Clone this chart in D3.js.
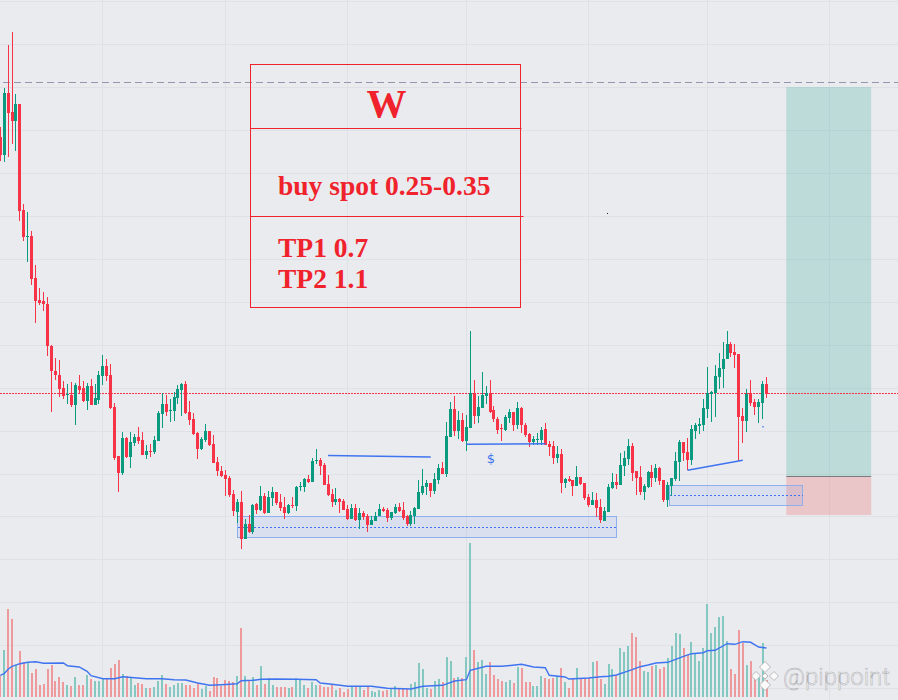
<!DOCTYPE html>
<html>
<head>
<meta charset="utf-8">
<script src="https://cdn.jsdelivr.net/npm/d3@7"></script>
<style>
	html, body { margin: 0; padding: 0; background: #eaebef; overflow: hidden; }
	svg { display: block; }
</style>
</head>
<body>
<svg width="898" height="700"></svg>
<script>
// prices are in 1/1000 of a dollar, candles run left to right
const opens = [563,545,607,588,579,596,490,463,464,422,400,399,396,354,329,325,312,305,305,295,314,312,299,314,295,300,324,334,325,293,244,227,262,243,257,263,260,245,249,248,259,286,296,289,289,302,310,316,288,281,267,251,260,269,256,238,229,225,222,206,188,198,161,176,168,196,190,204,187,202,208,198,193,187,195,194,213,213,221,218,239,240,235,216,206,198,201,199,191,181,192,180,187,184,175,179,184,191,190,182,187,193,190,184,176,184,191,207,213,217,209,220,232,226,263,291,269,280,259,272,307,284,292,304,307,290,281,272,270,282,288,275,292,275,266,258,260,260,271,256,254,242,246,217,221,220,214,223,217,203,195,200,193,179,188,212,218,215,234,241,254,229,223,208,213,228,222,232,220,200,214,221,238,258,248,240,269,274,275,291,306,307,323,331,341,356,348,346,284,279,307,298,293,297,316]
const highs = [573,612,655,668,606,596,496,488,469,435,412,408,403,355,342,340,319,316,318,317,325,319,317,321,316,329,345,341,336,297,244,268,263,268,266,273,268,255,256,264,289,307,305,301,308,315,317,319,299,287,268,263,276,269,265,243,234,230,224,210,201,209,181,185,196,197,214,207,209,213,208,206,203,196,203,214,218,222,225,242,251,242,237,225,211,212,202,201,195,196,196,192,189,186,184,188,196,193,192,188,196,197,198,185,189,193,220,231,220,217,227,236,238,278,298,304,289,287,285,369,320,304,328,314,320,294,283,276,285,291,288,298,293,277,267,264,267,273,277,259,259,254,251,222,224,220,234,223,217,206,208,207,201,193,216,227,226,247,249,261,257,229,234,216,229,235,236,233,220,218,222,248,260,258,262,275,277,282,301,333,309,335,347,358,369,358,356,346,292,311,320,301,301,319,323]
const lows = [539,538,543,556,549,479,459,438,415,377,395,389,344,288,320,303,301,296,293,275,306,298,290,295,295,296,315,319,291,240,208,225,242,232,254,256,245,241,243,246,259,272,284,278,279,296,284,286,275,265,241,250,258,254,237,224,223,204,203,184,177,151,161,167,166,186,189,186,187,194,195,189,181,186,192,189,209,208,217,218,236,225,215,204,193,195,187,190,180,181,179,171,180,168,175,179,184,188,178,180,186,188,180,174,174,176,191,205,205,203,206,216,226,223,263,264,261,258,249,272,276,277,292,296,287,278,266,259,269,277,269,271,267,263,253,255,255,255,255,244,236,237,207,212,218,204,214,215,200,193,195,183,177,179,188,211,211,215,224,235,219,205,205,200,212,213,218,215,198,193,204,219,219,239,230,235,261,266,269,282,278,283,311,312,341,343,332,239,257,268,294,285,277,281,302]
const closes = [545,607,587,579,596,489,463,464,421,399,397,396,354,329,325,311,304,306,295,315,310,299,314,295,302,325,334,324,292,242,227,262,243,258,263,259,245,249,248,260,287,296,288,290,303,311,316,287,280,266,251,261,269,255,237,229,224,221,205,189,198,161,176,168,195,190,204,187,203,208,197,192,187,195,194,213,214,221,218,239,240,234,215,205,198,201,198,190,181,192,180,187,183,175,180,184,191,189,182,188,193,189,182,176,185,192,208,214,217,209,221,232,226,264,291,269,280,259,273,307,284,293,305,307,288,281,270,271,283,288,275,292,275,265,258,261,261,270,255,253,242,246,217,221,219,214,223,216,202,195,200,192,180,189,213,218,215,235,242,254,227,222,208,214,228,222,232,219,200,215,222,239,258,247,240,271,275,276,292,307,308,324,332,341,356,347,345,283,279,306,297,293,298,316,306]

// volume in arbitrary units, same order as the candles
const volumes = [21,47,88,78,32,46,35,35,24,28,12,13,28,32,16,20,15,12,11,20,12,12,22,18,16,16,19,18,29,33,37,23,21,19,12,14,13,9,9,10,16,22,13,10,12,14,14,12,12,9,14,8,11,6,20,19,11,17,16,15,21,69,21,16,20,12,31,13,19,12,10,10,10,9,10,19,18,12,9,15,12,12,10,10,13,7,9,5,8,11,10,11,7,10,6,5,7,6,7,9,11,8,8,8,13,15,34,28,9,8,16,18,15,40,36,19,20,19,40,154,47,35,37,23,35,22,18,16,15,17,14,30,29,15,15,11,11,21,19,18,19,21,29,15,9,18,29,19,19,19,35,36,18,13,33,28,22,49,45,51,64,60,36,26,25,31,32,28,30,39,51,64,63,49,42,55,44,36,49,93,64,70,80,81,56,28,23,67,54,32,36,22,22,54,17]
const maIndex = [0,1,2,3,5,7,9,11,16,17,20,22,23,26,29,31,34,37,41,44,47,50,53,56,60,61,64,66,70,75,80,81,84,88,94,98,104,107,112,115,118,119,123,127,132,135,138,139,143,144,149,152,154,156,160,162,164,166,169,173,175,178,179,181,184,186,188,190,192,194]
const maValues = [21.7,23.3,27.7,30.7,33.3,34.7,35.3,33.7,34,31.3,30,25.7,21.3,18.3,18.3,20.3,19.3,18.3,18.3,17.3,17,14,11.7,12.3,13.3,16.3,16.7,17.7,18,17.7,17.3,14,12.7,10.7,10.7,8.7,8,10.7,11.7,16,17.3,26.7,30.7,30.7,32.7,30,29.3,21.7,20,18,19,20.3,20.7,22,27.3,30.3,32,34,34.7,40.7,43.3,44.3,46.3,46.7,53.3,52.7,55.3,54.7,50,49]

const gridPrices = [698.5,655.5,612.5,569.5,526.5,483.5,440.5,397.5,354.5,311.5,268.5,225.5,183.5,140.5,97.5,54.5,11.5]
const gridIndex = [26,57,88,118,149,179,210]

const targetPrice = 617.5
const lastPrice = 306.5
const buyZone = { from: 60, to: 156, top: 183.5, bottom: 162.5 }
const retestZone = { from: 169.2, to: 203, top: 214.5, bottom: 194.5 }
const position = { from: 199, to: 220.5, top: 613, entry: 224, stop: 185 }
const trendLines = [
	[[83, 244.5], [109, 243]],
	[[118, 255.7], [138, 256.3]],
	[[174, 229.7], [188, 239.7]],
]

const tableRows = [128.5, 216.5]
const titleText = "W"
const noteLines = [
	{ text: "buy spot 0.25-0.35", y: 195 },
	{ text: "TP1 0.7", y: 257 },
	{ text: "TP2 1.1", y: 288 },
]

const green = "#0a9a80"
const red = "#f73447"
const blue = "#3f74f0"

const svg = d3.select("svg")
const width = +svg.attr("width")
const height = +svg.attr("height")

const x = d3.scaleLinear().domain([0, 194]).range([0.2, 766.5])
const y = d3.scaleLinear().domain([0, 700]).range([700, 0])
const v = d3.scaleLinear().domain([0, 154]).range([697, 543])

const isUp = (i) => closes[i] >= opens[i]

// grid
const grid = svg.append("g").attr("stroke", "#e0e1e6").attr("shape-rendering", "crispEdges")
grid.selectAll("line.h").data(gridPrices).enter().append("line")
	.attr("x1", 0).attr("x2", width)
	.attr("y1", (d) => y(d)).attr("y2", (d) => y(d))
grid.selectAll("line.v").data(gridIndex).enter().append("line")
	.attr("x1", (d) => Math.floor(x(d)) + 0.5).attr("x2", (d) => Math.floor(x(d)) + 0.5)
	.attr("y1", 0).attr("y2", height)

// long position box
svg.append("rect")
	.attr("x", x(position.from)).attr("width", x(position.to) - x(position.from))
	.attr("y", y(position.top)).attr("height", y(position.entry) - y(position.top))
	.attr("fill", "rgba(8,153,129,0.2)")
svg.append("rect")
	.attr("x", x(position.from)).attr("width", x(position.to) - x(position.from))
	.attr("y", y(position.entry)).attr("height", y(position.stop) - y(position.entry))
	.attr("fill", "rgba(238,50,50,0.2)")
svg.append("line")
	.attr("x1", x(position.from)).attr("x2", x(position.to))
	.attr("y1", y(position.entry) + 0.5).attr("y2", y(position.entry) + 0.5)
	.attr("stroke", "#7a7a80")

// zones
const zones = svg.append("g")
;[buyZone, retestZone].forEach((z) => {
	const left = Math.round(x(z.from)) + 0.5
	const right = Math.round(x(z.to)) + 0.5
	zones.append("rect")
		.attr("x", left).attr("width", right - left)
		.attr("y", y(z.top)).attr("height", y(z.bottom) - y(z.top))
		.attr("fill", "rgba(50,110,230,0.09)")
		.attr("stroke", "#8eafee")
	zones.append("line")
		.attr("x1", left).attr("x2", right)
		.attr("y1", Math.floor(y((z.top + z.bottom) / 2)) + 0.5).attr("y2", Math.floor(y((z.top + z.bottom) / 2)) + 0.5)
		.attr("stroke", blue)
		.attr("stroke-dasharray", "2 2")
		.attr("shape-rendering", "crispEdges")
})

// price lines
svg.append("line")
	.attr("x1", 3).attr("x2", width)
	.attr("y1", y(targetPrice)).attr("y2", y(targetPrice))
	.attr("stroke", "#9795ae")
	.attr("stroke-dasharray", "7 4")
	.attr("shape-rendering", "crispEdges")
svg.append("line")
	.attr("x1", 0).attr("x2", width)
	.attr("y1", y(lastPrice)).attr("y2", y(lastPrice))
	.attr("stroke", red)
	.attr("stroke-dasharray", "2 1")
	.attr("shape-rendering", "crispEdges")

// volume
const volumeColor = (i) => (isUp(i) ? "#85c8c1" : "#ee9a9d")
svg.append("g").attr("shape-rendering", "crispEdges")
	.selectAll("rect").data(volumes).enter().append("rect")
	.attr("x", (d, i) => Math.round(x(i) - 1))
	.attr("width", 2)
	.attr("y", (d) => v(d))
	.attr("height", (d) => v(0) - v(d))
	.attr("fill", (d, i) => volumeColor(i))

const maLine = d3.line().x((d, i) => x(maIndex[i])).y((d) => v(d))
svg.append("path")
	.attr("d", maLine(maValues))
	.attr("fill", "none")
	.attr("stroke", blue)
	.attr("stroke-width", 1.4)

// candles
const candles = svg.append("g").attr("shape-rendering", "crispEdges")
candles.selectAll("rect.wick").data(opens).enter().append("rect")
	.attr("x", (d, i) => Math.round(x(i) - 0.5))
	.attr("width", 1)
	.attr("y", (d, i) => y(highs[i]))
	.attr("height", (d, i) => y(lows[i]) - y(highs[i]))
	.attr("fill", (d, i) => (isUp(i) ? green : red))
candles.selectAll("rect.body").data(opens).enter().append("rect")
	.attr("x", (d, i) => Math.round(x(i) - 1.5))
	.attr("width", 3)
	.attr("y", (d, i) => y(Math.max(opens[i], closes[i])))
	.attr("height", (d, i) => Math.max(1, Math.abs(y(opens[i]) - y(closes[i]))))
	.attr("fill", (d, i) => (isUp(i) ? green : red))

// hand drawn lines
trendLines.forEach((t) => {
	svg.append("line")
		.attr("x1", x(t[0][0])).attr("y1", y(t[0][1]))
		.attr("x2", x(t[1][0])).attr("y2", y(t[1][1]))
		.attr("stroke", blue)
		.attr("stroke-width", 1.5)
})
svg.append("text")
	.attr("x", 491).attr("y", 463)
	.attr("text-anchor", "middle")
	.attr("font-family", "DejaVu Sans")
	.attr("font-size", 13)
	.attr("fill", blue)
	.text("$")
svg.append("rect").attr("x", 762).attr("y", 426).attr("width", 2).attr("height", 1.5).attr("fill", "#7c9ff2")
svg.append("rect").attr("x", 607).attr("y", 213).attr("width", 1).attr("height", 1).attr("fill", "#222")

// text table
const tableColor = "#f0222c"
const table = svg.append("g")
table.append("rect")
	.attr("x", 250.5).attr("y", 64.5).attr("width", 270).attr("height", 243)
	.attr("fill", "none").attr("stroke", tableColor)
table.selectAll("line").data(tableRows).enter().append("line")
	.attr("x1", 250.5)
	.attr("x2", (d, i) => (i === 0 ? 521.5 : 523.5))
	.attr("y1", (d) => d).attr("y2", (d) => d)
	.attr("stroke", tableColor)
table.append("text")
	.attr("x", 386.5).attr("y", 117)
	.attr("text-anchor", "middle")
	.attr("font-family", "Liberation Serif")
	.attr("font-weight", "bold")
	.attr("font-size", 40)
	.attr("fill", tableColor)
	.text(titleText)
table.selectAll("text.note").data(noteLines).enter().append("text")
	.attr("class", "note")
	.attr("x", 278).attr("y", (d) => d.y)
	.attr("font-family", "Liberation Serif")
	.attr("font-weight", "bold")
	.attr("font-size", 27.5)
	.attr("fill", tableColor)
	.text((d) => d.text)

// watermark
const mark = svg.append("g")
	.attr("transform", "translate(765,676)")
	.attr("fill", "#fafafa")
	.attr("stroke", "#a9a9ad")
	.attr("stroke-width", 0.8)
const diamond = (cx, cy, r) => `M${cx},${cy - r}L${cx + r},${cy}L${cx},${cy + r}L${cx - r},${cy}Z`
mark.append("path").attr("d", diamond(0, -9, 5.5))
mark.append("path").attr("d", diamond(-9, 0, 4.5))
mark.append("path").attr("d", diamond(9, 0, 4.5))
mark.append("path").attr("d", diamond(0, 9, 5.5))
mark.append("path").attr("d", diamond(0, 0, 3))
svg.append("text")
	.attr("x", 783).attr("y", 685)
	.attr("font-family", "Roboto")
	.attr("font-weight", 300)
	.attr("font-size", 24)
	.attr("fill", "#fafafa")
	.attr("stroke", "#a9a9ad")
	.attr("stroke-width", 0.5)
	.text("@pippoint")
</script>
</body>
</html>
